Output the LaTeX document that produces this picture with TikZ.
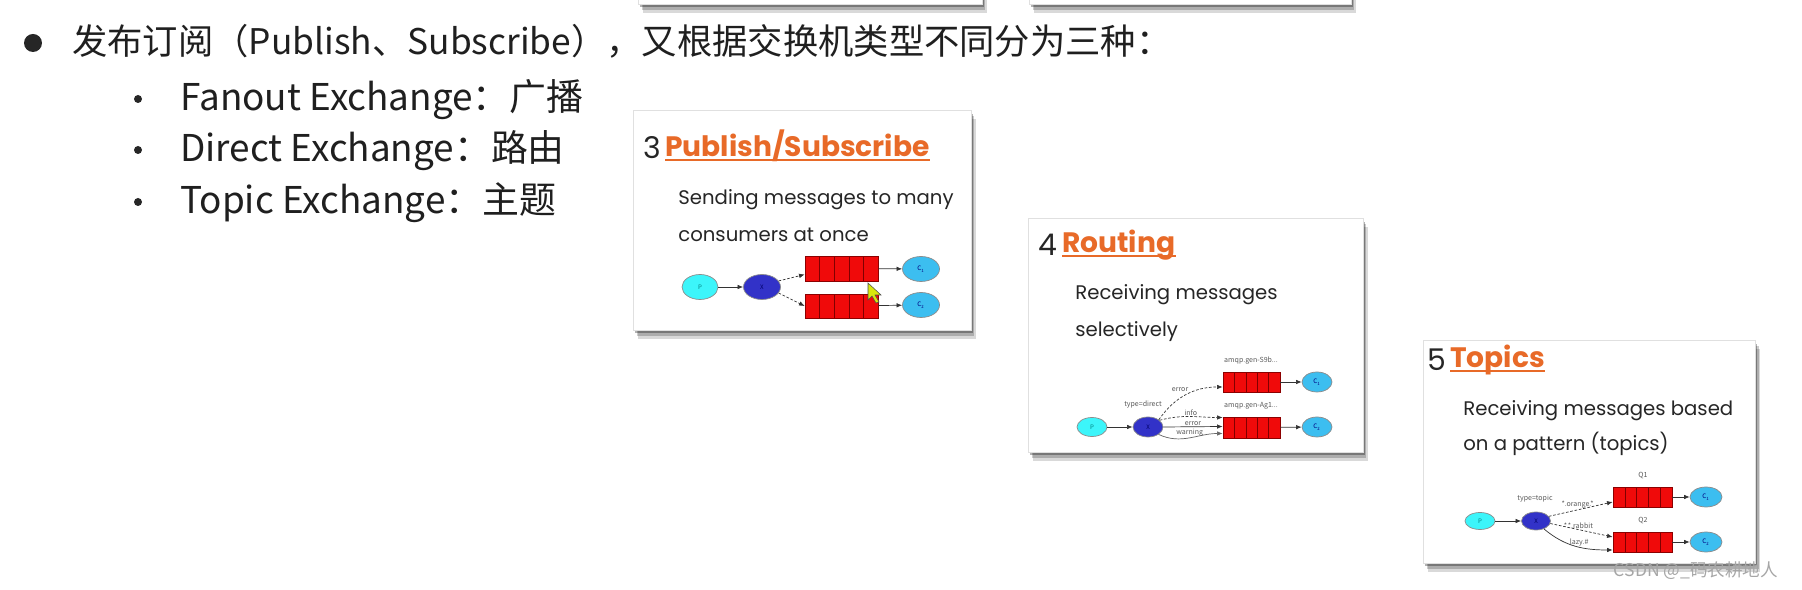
\documentclass[tikz,border=0pt]{standalone}
\usepackage{fontspec}
\setmainfont{Noto Sans CJK SC}
\newfontfamily\cardfont{Poppins}
\usetikzlibrary{arrows.meta,calc,shapes.geometric,shadows}

\definecolor{titleorange}{RGB}{232,106,40}
\definecolor{pcyan}{RGB}{60,245,250}
\definecolor{xblue}{RGB}{50,50,200}
\definecolor{cblue}{RGB}{60,190,240}
\definecolor{qred}{RGB}{240,10,10}

\begin{document}
\begin{tikzpicture}[x=0.02cm, y=-0.02cm, >={Latex[length=3.2pt,width=2.6pt]},
  card/.style={draw=black!12, fill=white, inner sep=0pt,
    drop shadow={shadow xshift=3pt, shadow yshift=-5pt, opacity=.15, fill=black},
    drop shadow={shadow xshift=2pt, shadow yshift=-3.5pt, opacity=.2, fill=black},
    drop shadow={shadow xshift=1pt, shadow yshift=-2pt, opacity=.3, fill=black}},
  txt/.style={inner sep=0pt, anchor=base west},
  num/.style={txt, text=black!85, font=\cardfont\fontsize{17}{20}\selectfont},
  head/.style={txt, text=titleorange, font=\cardfont\bfseries\fontsize{16}{19}\selectfont},
  desc/.style={txt, text=black!85, font=\cardfont\fontsize{11.2}{14}\selectfont},
  uline/.style={titleorange, line width=1.1pt},
  ell/.style n args={3}{ellipse, draw=black!45, fill=#1, minimum width=#2,
    minimum height=#3, inner sep=0pt, font=\fontsize{3.5}{4}\selectfont},
  pnode/.style 2 args={ell={pcyan}{#1}{#2}, text=teal},
  xnode/.style 2 args={ell={xblue}{#1}{#2}, text=blue!40!black},
  cnode/.style 2 args={ell={cblue}{#1}{#2}, text=blue!50!black},
  qbox/.style 2 args={draw=red!55!black, fill=qred, minimum width=#1, minimum height=#2, inner sep=0pt,
    path picture={\foreach \k in {1,...,4}
      \draw[red!50!black, line width=.3pt]
        ($(path picture bounding box.south west)!\k/5!(path picture bounding box.south east)$) --
        ($(path picture bounding box.north west)!\k/5!(path picture bounding box.north east)$);}},
  lbl/.style={font=\fontsize{4}{4.5}\selectfont, text=black!65, inner sep=.5pt},
  link/.style={->, black!80, line width=.4pt},
  dlink/.style={link, dash pattern=on 1.5pt off 1pt},
]
\useasboundingbox (0,0) rectangle (1802,590);
\fill[white] (0,0) rectangle (1802,590);

% cards cut off at the top
\node[card, minimum width=6.88cm, minimum height=2.56cm] (prevA) at (810,-60) {};
\node[card, minimum width=6.44cm, minimum height=2.56cm] (prevB) at (1190,-60) {};

% list
\node[circle, fill=black!85, minimum size=0.36cm, inner sep=0pt] (dot) at (33,43) {};
\node[txt, font=\fontsize{20.1}{24}\selectfont, text=black!88] (intro) at (72,55)
  {发布订阅（Publish、Subscribe），又根据交换机类型不同分为三种：};
\foreach \y/\n/\t in {111/fanout/{Fanout Exchange：广播},
                      162/direct/{Direct Exchange：路由},
                      214/topic/{Topic Exchange：主题}} {
  \node[circle, fill=black!85, minimum size=0.16cm, inner sep=0pt] (dot-\n) at (138,\y-12) {};
  \node[txt, font=\fontsize{21}{25}\selectfont, text=black!88] (item-\n) at (180,\y) {\t};
}

% 3 Publish/Subscribe
\node[card, minimum width=6.76cm, minimum height=4.4cm] (card3) at (802,220) {};
\node[num] (n3) at (643,159) {3};
\node[head] (h3) at (665,157) {Publish/Subscribe};
\draw[uline] ($(h3.base west)+(0,3)$) -- ($(h3.base east)+(0,3)$);
\node[desc] (d3a) at (678,205) {Sending messages to many};
\node[desc] (d3b) at (678,242) {consumers at once};
\node[pnode={0.72cm}{0.5cm}] (P3) at (700,287) {P};
\node[xnode={0.74cm}{0.5cm}] (X3) at (762,287) {X};
\node[qbox={1.46cm}{0.5cm}] (Q3a) at (841.5,268.5) {};
\node[qbox={1.46cm}{0.48cm}] (Q3b) at (841.5,306) {};
\node[cnode={0.74cm}{0.5cm}] (C3a) at (921,269) {C\textsubscript{1}};
\node[cnode={0.74cm}{0.5cm}] (C3b) at (921,305) {C\textsubscript{2}};
\draw[link] (P3) -- (X3);
\draw[dlink] (X3.20) -- ($(Q3a.west)+(0,6)$);
\draw[dlink] (X3.-20) -- (Q3b.west);
\draw[link] (Q3a) -- (C3a);
\draw[link] (Q3b) -- (C3b);
\fill[draw=black!70, fill=yellow!85!green, line width=.3pt]
  (868,283) -- (868,300) -- (872,296) -- (876,303) -- (879,302) -- (875,295) -- (881,295) -- cycle;

% 4 Routing
\node[card, minimum width=6.7cm, minimum height=4.68cm] (card4) at (1195.5,335) {};
\node[num] (n4) at (1038,256) {4};
\node[head] (h4) at (1062,253) {Routing};
\draw[uline] ($(h4.base west)+(0,3)$) -- ($(h4.base east)+(0,3)$);
\node[desc] (d4a) at (1075,300) {Receiving messages};
\node[desc] (d4b) at (1075,337) {selectively};
\node[pnode={0.6cm}{0.38cm}] (P4) at (1092,427) {P};
\node[xnode={0.6cm}{0.4cm}] (X4) at (1148,427) {X};
\node[qbox={1.14cm}{0.4cm}] (Q4a) at (1251.5,382) {};
\node[qbox={1.14cm}{0.42cm}] (Q4b) at (1251.5,427.5) {};
\node[cnode={0.6cm}{0.4cm}] (C4a) at (1317,382) {C\textsubscript{1}};
\node[cnode={0.6cm}{0.4cm}] (C4b) at (1317,427) {C\textsubscript{2}};
\node[lbl] (q4a-name) at (1251,361) {amqp.gen-S9b...};
\node[lbl] (q4b-name) at (1251,406) {amqp.gen-Ag1...};
\node[lbl] (x4-type) at (1143,405) {type=direct};
\draw[link] (P4) -- (X4);
\draw[dlink] (X4.north east) to[out=55, in=180] node[lbl, above left, pos=.55] {error} ($(Q4a.west)+(0,5)$);
\draw[dlink] (X4.30) to[out=15, in=180] node[lbl, above, pos=.5] {info} ($(Q4b.west)+(0,-10)$);
\draw[link] (X4.east) -- node[lbl, above, pos=.5] {error} ($(Q4b.west)+(0,-1)$);
\draw[link, black!60] (X4.-35) to[out=-25, in=180] node[lbl, above, pos=.5] {warning} ($(Q4b.west)+(0,6)$);
\draw[link] (Q4a) -- (C4a);
\draw[link] (Q4b) -- (C4b);

% 5 Topics
\node[card, minimum width=6.64cm, minimum height=4.46cm] (card5) at (1589,451.5) {};
\node[num] (n5) at (1427,371) {5};
\node[head] (h5) at (1450,368) {Topics};
\draw[uline] ($(h5.base west)+(0,3)$) -- ($(h5.base east)+(0,3)$);
\node[desc] (d5a) at (1463,416) {Receiving messages based};
\node[desc] (d5b) at (1463,451) {on a pattern (topics)};
\node[pnode={0.6cm}{0.34cm}] (P5) at (1480,521) {P};
\node[xnode={0.58cm}{0.36cm}] (X5) at (1536,521) {X};
\node[qbox={1.18cm}{0.4cm}] (Q5a) at (1642.5,497) {};
\node[qbox={1.18cm}{0.4cm}] (Q5b) at (1642.5,542) {};
\node[cnode={0.64cm}{0.4cm}] (C5a) at (1706,497) {C\textsubscript{1}};
\node[cnode={0.64cm}{0.4cm}] (C5b) at (1706,542) {C\textsubscript{2}};
\node[lbl] (q5a-name) at (1643,476) {Q1};
\node[lbl] (q5b-name) at (1643,521) {Q2};
\node[lbl] (x5-type) at (1535,499) {type=topic};
\draw[link] (P5) -- (X5);
\draw[dlink] (X5.20) -- node[lbl, above, pos=.45] {*.orange.*} ($(Q5a.west)+(0,5)$);
\draw[dlink] (X5.-10) -- node[lbl, above, pos=.45] {*.*.rabbit} ($(Q5b.west)+(0,-5)$);
\draw[link] (X5.-45) to[out=-40, in=180] node[lbl, above, pos=.55] {lazy.\#} ($(Q5b.west)+(0,8)$);
\draw[link] (Q5a) -- (C5a);
\draw[link] (Q5b) -- (C5b);

% watermark
\node[font=\fontsize{10}{12}\selectfont, text=black!35] (mark) at (1696,571) {CSDN @\_码农耕地人};
\end{tikzpicture}
\end{document}
